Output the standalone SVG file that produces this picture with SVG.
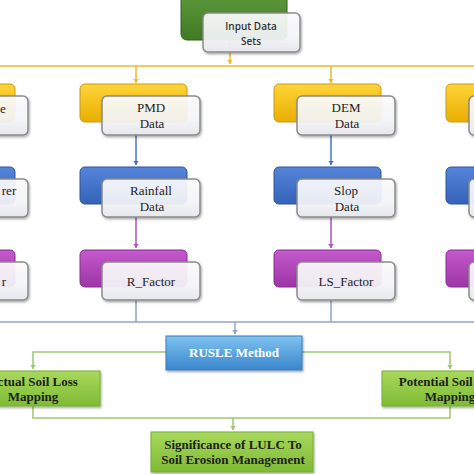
<svg xmlns="http://www.w3.org/2000/svg" width="474" height="474" viewBox="0 0 474 474">
<defs>
<linearGradient id="gY" x1="0" y1="0" x2="0" y2="1"><stop offset="0" stop-color="#FFD43A"/><stop offset="1" stop-color="#E9AE00"/></linearGradient>
<linearGradient id="gB" x1="0" y1="0" x2="0" y2="1"><stop offset="0" stop-color="#5585DA"/><stop offset="1" stop-color="#3462B8"/></linearGradient>
<linearGradient id="gP" x1="0" y1="0" x2="0" y2="1"><stop offset="0" stop-color="#C45ACC"/><stop offset="1" stop-color="#9C35A6"/></linearGradient>
<linearGradient id="gG" x1="0" y1="0" x2="0" y2="1"><stop offset="0" stop-color="#5E9A3C"/><stop offset="1" stop-color="#3F7A24"/></linearGradient>
<linearGradient id="gW" x1="0" y1="0" x2="0" y2="1"><stop offset="0" stop-color="#FFFFFF" stop-opacity="0.9"/><stop offset="0.6" stop-color="#F7F8FB" stop-opacity="0.9"/><stop offset="1" stop-color="#E6E7EC"/></linearGradient>
<linearGradient id="gR" x1="0" y1="0" x2="0" y2="1"><stop offset="0" stop-color="#7FC3F0"/><stop offset="1" stop-color="#3A86CC"/></linearGradient>
<linearGradient id="gL" x1="0" y1="0" x2="0" y2="1"><stop offset="0" stop-color="#A8D85C"/><stop offset="1" stop-color="#7EBB34"/></linearGradient>
<filter id="sh" x="-10%" y="-10%" width="130%" height="140%"><feDropShadow dx="1" dy="1.5" stdDeviation="1" flood-color="#000" flood-opacity="0.35"/></filter>
<marker id="aY" markerWidth="6" markerHeight="6" refX="3" refY="3" orient="auto"><path d="M0,1 L3,3 L0,5 Z" fill="#EDBA2C"/></marker>
<marker id="aB" markerWidth="6" markerHeight="6" refX="3" refY="3" orient="auto"><path d="M0,1 L3,3 L0,5 Z" fill="#4A72C0"/></marker>
<marker id="aP" markerWidth="6" markerHeight="6" refX="3" refY="3" orient="auto"><path d="M0,1 L3,3 L0,5 Z" fill="#B050C0"/></marker>
<marker id="aS" markerWidth="6" markerHeight="6" refX="3" refY="3" orient="auto"><path d="M0,1 L3,3 L0,5 Z" fill="#8EA6CC"/></marker>
<marker id="aG" markerWidth="6" markerHeight="6" refX="3" refY="3" orient="auto"><path d="M0,1 L3,3 L0,5 Z" fill="#9CC870"/></marker>
</defs>
<style>
.w{fill:url(#gW);stroke:#8A8A8A;stroke-width:1.5;filter:url(#sh)}
.cy{fill:url(#gY);stroke:#C99A10;stroke-width:1}
.cb{fill:url(#gB);stroke:#2C55A0;stroke-width:1}
.cp{fill:url(#gP);stroke:#8A2C94;stroke-width:1}
.t{font-family:"Liberation Serif","Times New Roman",serif;font-size:13px;fill:#222;text-anchor:middle}
.tb{font-family:"Liberation Serif","Times New Roman",serif;font-size:13px;font-weight:bold;fill:#1E1E1E;text-anchor:middle}
.ly{stroke:#EDBA2C;stroke-width:1.5;fill:none}
.lb{stroke:#4A72C0;stroke-width:1.5;fill:none}
.lp{stroke:#B050C0;stroke-width:1.5;fill:none}
.ls{stroke:#8EA6CC;stroke-width:1.5;fill:none}
.lg{stroke:#9CC870;stroke-width:1.5;fill:none}
</style>
<rect width="474" height="474" fill="#FFFFFF"/>
<g id="connectors">
<path class="ly" d="M230,40 V64" marker-end="url(#aY)"/>
<path class="ly" d="M0,66 H474"/>
<path class="ly" d="M136,66 V83" marker-end="url(#aY)"/>
<path class="ly" d="M331,66 V83" marker-end="url(#aY)"/>
<path class="lb" d="M136,135 V165" marker-end="url(#aB)"/>
<path class="lb" d="M331,135 V165" marker-end="url(#aB)"/>
<path class="lp" d="M136,217 V248" marker-end="url(#aP)"/>
<path class="lp" d="M331,217 V248" marker-end="url(#aP)"/>
<path class="ls" d="M136,300 V322 M331,300 V322 M0,322 H474"/>
<path class="ls" d="M235,322 V334" marker-end="url(#aS)"/>
<path class="lg" d="M166,352 H33 V369" marker-end="url(#aG)"/>
<path class="lg" d="M302,352 H450 V369" marker-end="url(#aG)"/>
<path class="lg" d="M33,406 V418 H450 V406"/>
<path class="lg" d="M233,418 V430" marker-end="url(#aG)"/>
</g>
<g id="node-input">
<rect x="181" y="-8" width="106" height="48" rx="6" fill="url(#gG)" stroke="#2F6018"/>
<rect class="w" x="203" y="13" width="97" height="39" rx="5"/>
<text x="251" y="30" font-family="'Open Sans','Liberation Sans',sans-serif" font-size="10" font-weight="600" fill="#333" text-anchor="middle">Input Data</text>
<text x="251" y="45" font-family="'Open Sans','Liberation Sans',sans-serif" font-size="10" font-weight="600" fill="#333" text-anchor="middle">Sets</text>
</g>
<g id="node-left1"><rect class="cy" x="-92" y="84" width="107" height="38" rx="5"/><rect class="w" x="-70" y="96" width="98" height="39" rx="5"/><text class="t" x="3" y="113">e</text></g>
<g id="node-left2"><rect class="cb" x="-92" y="167" width="107" height="37" rx="5"/><rect class="w" x="-70" y="179" width="98" height="38" rx="5"/><text class="t" x="9" y="195">rer</text></g>
<g id="node-left3"><rect class="cp" x="-92" y="250" width="107" height="37" rx="5"/><rect class="w" x="-70" y="262" width="98" height="38" rx="5"/><text class="t" x="4" y="286">r</text></g>
<g id="node-pmd"><rect class="cy" x="80" y="84" width="107" height="38" rx="5"/><rect class="w" x="102" y="96" width="98" height="39" rx="5"/><text class="t" x="151" y="112">PMD</text><text class="t" x="152" y="128">Data</text></g>
<g id="node-rainfall"><rect class="cb" x="80" y="167" width="107" height="37" rx="5"/><rect class="w" x="102" y="179" width="98" height="38" rx="5"/><text class="t" x="151" y="195">Rainfall</text><text class="t" x="152" y="211">Data</text></g>
<g id="node-rfactor"><rect class="cp" x="80" y="250" width="107" height="37" rx="5"/><rect class="w" x="102" y="262" width="98" height="38" rx="5"/><text class="t" x="151" y="286">R_Factor</text></g>
<g id="node-dem"><rect class="cy" x="274" y="84" width="107" height="38" rx="5"/><rect class="w" x="297" y="96" width="98" height="39" rx="5"/><text class="t" x="346" y="112">DEM</text><text class="t" x="347" y="128">Data</text></g>
<g id="node-slop"><rect class="cb" x="274" y="167" width="107" height="37" rx="5"/><rect class="w" x="297" y="179" width="98" height="38" rx="5"/><text class="t" x="346" y="195">Slop</text><text class="t" x="347" y="211">Data</text></g>
<g id="node-lsfactor"><rect class="cp" x="274" y="250" width="107" height="37" rx="5"/><rect class="w" x="297" y="262" width="98" height="38" rx="5"/><text class="t" x="346" y="286">LS_Factor</text></g>
<g id="node-right1"><rect class="cy" x="446" y="84" width="107" height="38" rx="5"/><rect class="w" x="469" y="96" width="98" height="39" rx="5"/></g>
<g id="node-right2"><rect class="cb" x="446" y="167" width="107" height="37" rx="5"/><rect class="w" x="469" y="179" width="98" height="38" rx="5"/></g>
<g id="node-right3"><rect class="cp" x="446" y="250" width="107" height="37" rx="5"/><rect class="w" x="469" y="262" width="98" height="38" rx="5"/></g>
<g id="node-rusle">
<rect x="166" y="336" width="136" height="34" fill="url(#gR)" stroke="#3A7EC0" stroke-width="1" filter="url(#sh)"/>
<text x="234" y="357" font-family="'Liberation Serif','Times New Roman',serif" font-size="13" font-weight="bold" fill="#FFFFFF" text-anchor="middle">RUSLE Method</text>
</g>
<g id="node-actual">
<rect x="-34" y="371" width="134" height="35" fill="url(#gL)" stroke="#76AE30" filter="url(#sh)"/>
<text class="tb" x="33" y="386">Actual Soil Loss</text>
<text class="tb" x="33" y="401">Mapping</text>
</g>
<g id="node-potential">
<rect x="382" y="371" width="136" height="35" fill="url(#gL)" stroke="#76AE30" filter="url(#sh)"/>
<text class="tb" x="450" y="386">Potential Soil Loss</text>
<text class="tb" x="450" y="401">Mapping</text>
</g>
<g id="node-significance">
<rect x="151" y="432" width="162" height="40" fill="url(#gL)" stroke="#76AE30" filter="url(#sh)"/>
<text class="tb" x="233" y="449">Significance of LULC To</text>
<text class="tb" x="233" y="464">Soil Erosion Management</text>
</g>
</svg>
